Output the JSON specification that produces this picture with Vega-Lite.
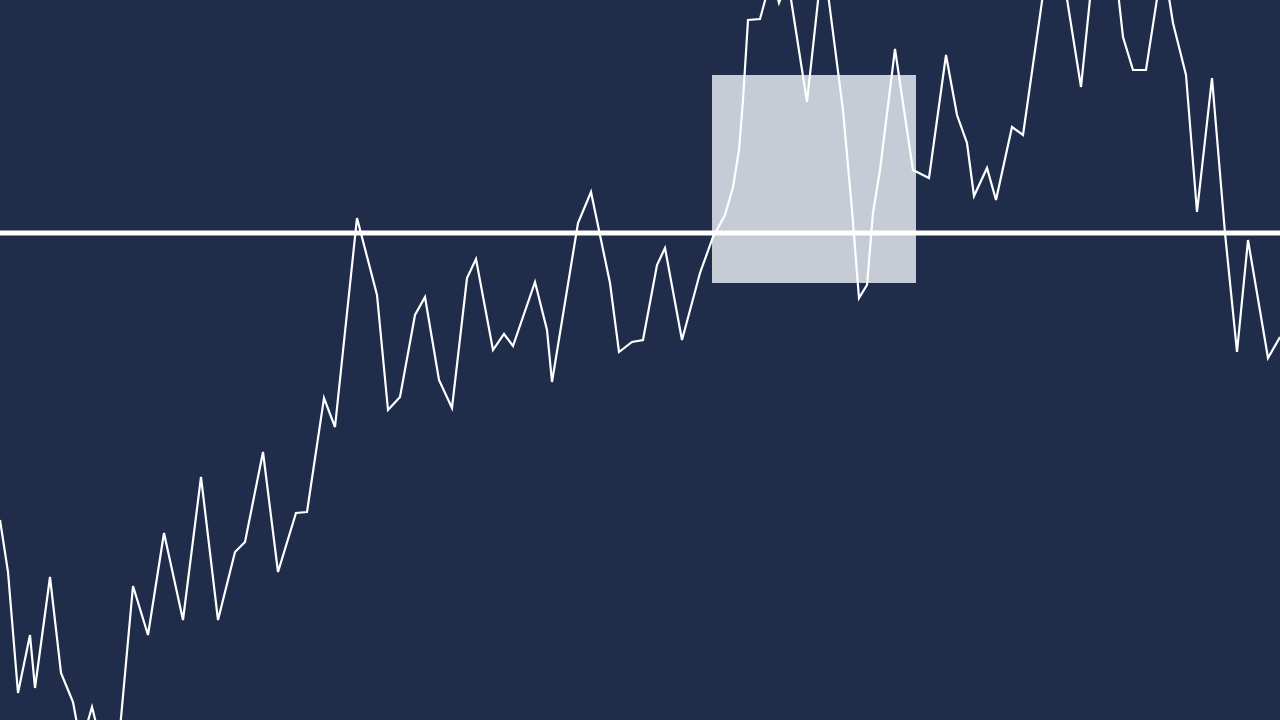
{
  "$schema": "https://vega.github.io/schema/vega-lite/v6.json",
  "autosize": {"type": "none"},
  "width": 1280,
  "height": 720,
  "padding": 0,
  "background": "#1f2d4a",
  "config": {"view": {"stroke": null}},
  "datasets": {
    "series": [
      {"t":0,"v":200},{"t":8,"v":148},{"t":18,"v":27},{"t":30,"v":85},{"t":35,"v":32},{"t":50,"v":143},{"t":61,"v":47},{"t":73,"v":18},{"t":81,"v":-25},{"t":92,"v":13},{"t":104,"v":-35},{"t":119,"v":-20},{"t":133,"v":134},{"t":148,"v":85},{"t":164,"v":187},{"t":183,"v":100},{"t":201,"v":243},{"t":218,"v":100},{"t":235,"v":168},{"t":245,"v":178},{"t":263,"v":268},{"t":278,"v":148},{"t":296,"v":207},{"t":307,"v":208},{"t":324,"v":322},{"t":335,"v":293},{"t":357,"v":502},{"t":377,"v":425},{"t":388,"v":310},{"t":400,"v":323},{"t":415,"v":405},{"t":425,"v":423},{"t":439,"v":340},{"t":452,"v":312},{"t":467,"v":442},{"t":476,"v":461},{"t":493,"v":370},{"t":504,"v":386},{"t":513,"v":374},{"t":535,"v":438},{"t":547,"v":390},{"t":552,"v":338},{"t":578,"v":497},{"t":591,"v":528},{"t":610,"v":437},{"t":619,"v":368},{"t":632,"v":378},{"t":643,"v":380},{"t":657,"v":455},{"t":665,"v":472},{"t":682,"v":380},{"t":700,"v":447},{"t":713,"v":483},{"t":725,"v":505},{"t":733,"v":533},{"t":739,"v":570},{"t":743,"v":620},{"t":748,"v":700},{"t":760,"v":701},{"t":772,"v":745},{"t":779,"v":717},{"t":788,"v":740},{"t":807,"v":618},{"t":823,"v":765},{"t":843,"v":610},{"t":852,"v":510},{"t":859,"v":422},{"t":867,"v":435},{"t":873,"v":507},{"t":880,"v":550},{"t":895,"v":671},{"t":904,"v":610},{"t":913,"v":550},{"t":929,"v":542},{"t":946,"v":665},{"t":957,"v":605},{"t":967,"v":577},{"t":974,"v":524},{"t":987,"v":552},{"t":996,"v":520},{"t":1012,"v":593},{"t":1023,"v":585},{"t":1050,"v":775},{"t":1060,"v":765},{"t":1081,"v":633},{"t":1096,"v":780},{"t":1110,"v":800},{"t":1123,"v":683},{"t":1133,"v":650},{"t":1146,"v":650},{"t":1163,"v":760},{"t":1173,"v":697},{"t":1186,"v":645},{"t":1197,"v":508},{"t":1212,"v":642},{"t":1225,"v":487},{"t":1237,"v":368},{"t":1248,"v":480},{"t":1268,"v":362},{"t":1280,"v":383}
    ],
    "box": [{"t1": 712, "t2": 916, "v1": 437, "v2": 645}],
    "level": [{"v": 487}]
  },
  "layer": [
    {
      "data": {"name": "box"},
      "mark": {"type": "rect", "fill": "#c6ccd5", "opacity": 1},
      "encoding": {
        "x": {"field": "t1", "type": "quantitative", "scale": {"domain": [0, 1280], "nice": false, "zero": false}, "axis": null},
        "x2": {"field": "t2"},
        "y": {"field": "v1", "type": "quantitative", "scale": {"domain": [0, 720], "nice": false, "zero": false}, "axis": null},
        "y2": {"field": "v2"}
      }
    },
    {
      "data": {"name": "level"},
      "mark": {"type": "rule", "color": "#ffffff", "strokeWidth": 5},
      "encoding": {
        "y": {"field": "v", "type": "quantitative", "scale": {"domain": [0, 720], "nice": false, "zero": false}, "axis": null}
      }
    },
    {
      "data": {"name": "series"},
      "mark": {"type": "line", "color": "#ffffff", "strokeWidth": 2.2, "clip": true, "strokeJoin": "miter"},
      "encoding": {
        "x": {"field": "t", "type": "quantitative", "scale": {"domain": [0, 1280], "nice": false, "zero": false}, "axis": null},
        "y": {"field": "v", "type": "quantitative", "scale": {"domain": [0, 720], "nice": false, "zero": false}, "axis": null}
      }
    }
  ]
}
